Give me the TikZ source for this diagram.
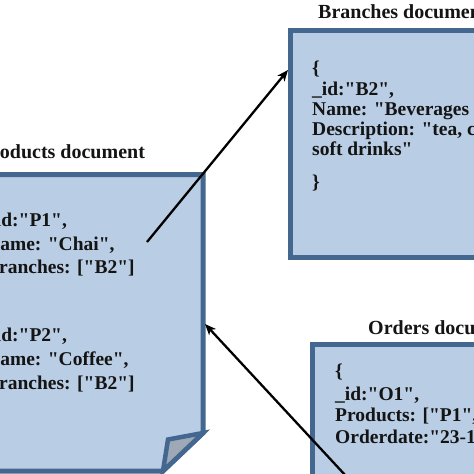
\documentclass[tikz,border=0pt]{standalone}
\usepackage{fontspec}
\setmainfont{Liberation Serif}[Ligatures=TeXOff]
\usetikzlibrary{arrows.meta}
\definecolor{boxfill}{HTML}{B9CDE5}
\definecolor{boxline}{HTML}{44678F}
\definecolor{foldgray}{HTML}{9EA8B6}
\definecolor{txt}{HTML}{141414}
\begin{document}
\begin{tikzpicture}[x=1pt,y=-1pt,
  docbox/.style={draw=boxline,fill=boxfill,line width=5pt,line join=miter},
  fold/.style={draw=boxline,fill=foldgray,line width=4.5pt,line join=miter},
  line/.style={anchor=base west,inner sep=0pt,text=txt,font=\fontsize{19.5}{20}\selectfont\bfseries},
  title/.style={anchor=base west,inner sep=0pt,text=txt,font=\fontsize{20}{22}\selectfont\bfseries},
  conn/.style={draw=black,line width=2.3pt,-{Stealth[length=11pt,width=9pt,inset=3pt]}}]
\useasboundingbox (0,0) rectangle (474,474);
\clip (0,0) rectangle (474,474);
\fill[white] (0,0) rectangle (474,474);
% Products document
\node[title] (ptitle) at (-21,158) {Products document};
\draw[docbox] (-20,174.5) -- (203,174.5) -- (203,433) -- (163,471) -- (-20,471) -- cycle;
\draw[fold] (203,433) -- (168,439.5) -- (163,471) -- cycle;
\node[line] (p1a) at (-14,226) {\_id:"P1",};
\node[line] (p1b) at (-14,250) {Name: "Chai",};
\node[line] (p1c) at (-14,273) {Branches: ["B2"]};
\node[line] (p2a) at (-14,341) {\_id:"P2",};
\node[line] (p2b) at (-14,365) {Name: "Coffee",};
\node[line] (p2c) at (-14,389) {Branches: ["B2"]};
% Branches document
\node[title] (btitle) at (318,18) {Branches document};
\draw[docbox] (290.5,30.5) rectangle (490,257.5);
\node[line] (b0) at (312,74.5) {\{};
\node[line] (b1) at (312,95) {\_id:"B2",};
\node[line] (b2) at (312,115) {Name: "Beverages};
\node[line] (b3) at (312,135) {Description: "tea, coffee,};
\node[line] (b4) at (312,155) {soft drinks"};
\node[line] (b5) at (312,188.5) {\}};
% Orders document
\node[title] (otitle) at (368,334) {Orders document};
\draw[docbox] (312.5,344.5) rectangle (490,490);
\node[line] (o0) at (335,377) {\{};
\node[line] (o1) at (335,400) {\_id:"O1",};
\node[line] (o2) at (335,421) {Products: ["P1", "P2"],};
\node[line] (o3) at (335,443) {Orderdate:"23-10-2020"};
% connectors
\coordinate (a1s) at (147,242);
\coordinate (a1e) at (288,70);
\coordinate (a2s) at (346,476);
\coordinate (a2e) at (205,324);
\draw[conn] (a1s) -- (a1e);
\draw[conn] (a2s) -- (a2e);
\end{tikzpicture}
\end{document}
